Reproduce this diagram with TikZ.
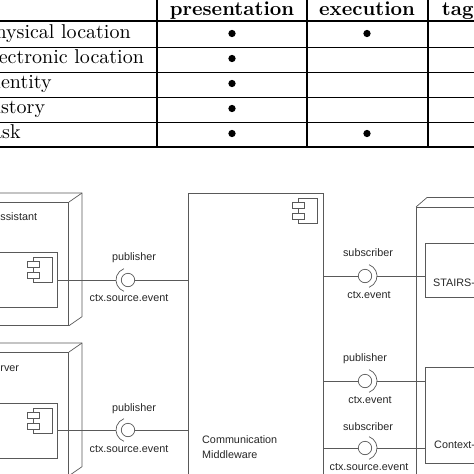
\documentclass[tikz,border=0pt]{standalone}
\usepackage{fontspec}
\newfontfamily\diagfont{Liberation Sans}
\usetikzlibrary{calc}
\tikzset{
  tabtext/.style={font=\fontsize{10}{12}\selectfont, scale=2, inner sep=0pt, anchor=base west},
  tabhead/.style={font=\fontsize{10}{12}\selectfont\bfseries, scale=2, inner sep=0pt, anchor=base},
  tabdot/.style={circle, fill=black, inner sep=0pt, minimum size=7.3pt},
  thinrule/.style={line width=1pt, black},
  thickrule/.style={line width=1.6pt, black},
  diag/.style={draw=black!65, line width=0.7pt},
  boxface/.style={diag, rectangle, inner sep=0pt},
  ball/.style={diag, circle, inner sep=0pt, minimum size=13.4pt},
  lbl/.style={font=\diagfont\fontsize{10.8}{15}\selectfont, text=black!85, inner sep=0pt},
  compicon/.pic={
    \draw[diag, fill=white] (-19,0) rectangle (0,25);
    \draw[diag, fill=white] (-25,4) rectangle (-13,10);
    \draw[diag, fill=white] (-25,15) rectangle (-13,21);
  }
}
\begin{document}
\begin{tikzpicture}[x=1pt,y=-1pt]
\useasboundingbox (0,0) rectangle (474,474);
\clip (0,0) rectangle (474,474);
% ---------------- table ----------------
\draw[thickrule] (-5,21) -- (480,21);
\foreach \yy in {47,72,97,122} \draw[thinrule] (-5,\yy) -- (480,\yy);
\draw[thickrule] (-5,147) -- (480,147);
\draw[line width=1.3pt] (157,-5) -- (157,147);
\draw[line width=1.3pt] (307,-5) -- (307,147);
\draw[line width=1.3pt] (428,-5) -- (428,147);
\node[tabhead] (hpres) at (232,15) {presentation};
\node[tabhead] (hexec) at (367,15) {execution};
\node[tabhead, anchor=base west] (htag) at (441.5,15) {tagging};
\node[tabtext] (r1) at (-16,38.5) {physical location};
\node[tabtext] (r2) at (-16,63.5) {electronic location};
\node[tabtext] (r3) at (-16,88.5) {identity};
\node[tabtext] (r4) at (-16,113.5) {history};
\node[tabtext] (r5) at (-16,138.5) {task};
\node[tabdot] (d11) at (232,33.5) {};
\node[tabdot] (d21) at (232,58.5) {};
\node[tabdot] (d31) at (232,83.5) {};
\node[tabdot] (d41) at (232,108.5) {};
\node[tabdot] (d51) at (232,133.5) {};
\node[tabdot] (d12) at (367,33.5) {};
\node[tabdot] (d52) at (367,133.5) {};
% ---------------- diagram ----------------
% left nodes
\node[boxface, minimum width=200pt, minimum height=123pt, anchor=north east] (pa) at (69,202) {};
\draw[diag] (pa.north west) -- ++(13,-9) -- ($(pa.north east)+(13,-9)$) -- ($(pa.south east)+(13,-9)$) -- (pa.south east);
\draw[diag] (pa.north east) -- ++(13,-9);
\node[lbl, anchor=west] (patext) at (-7,217) {Assistant};
\node[boxface, minimum width=150pt, minimum height=55pt, anchor=north east] (paComp) at (58,252) {};
\pic at ($(paComp.north east)+(-6,5)$) {compicon};

\node[boxface, minimum width=200pt, minimum height=123pt, anchor=north east] (srv) at (69,352) {};
\draw[diag] (srv.north west) -- ++(13,-9) -- ($(srv.north east)+(13,-9)$) -- ($(srv.south east)+(13,-9)$) -- (srv.south east);
\draw[diag] (srv.north east) -- ++(13,-9);
\node[lbl, anchor=west] (srvtext) at (-13,368) {Server};
\node[boxface, minimum width=150pt, minimum height=55pt, anchor=north east] (srvComp) at (58,403) {};
\pic at ($(srvComp.north east)+(-6,5)$) {compicon};

% middleware
\node[boxface, minimum width=135pt, minimum height=330pt, anchor=north west] (mw) at (188,193) {};
\pic at ($(mw.north east)+(-6,5)$) {compicon};
\node[lbl, anchor=west, align=left] (mwtext) at (202,447.5) {Communication\\Middleware};

% right node
\node[boxface, minimum width=200pt, minimum height=330pt, anchor=north west] (rn) at (416,207) {};
\draw[diag] (rn.north west) -- ++(11,-9.5) -- ($(rn.north east)+(11,-9.5)$);
\node[boxface, minimum width=150pt, minimum height=54pt, anchor=north west] (stairs) at (425,243) {};
\node[lbl, anchor=west] (stairstext) at (433,283) {STAIRS-Client};
\node[boxface, minimum width=150pt, minimum height=96pt, anchor=north west] (ctx) at (425,367) {};
\node[lbl, anchor=west] (ctxtext) at (434,446) {Context-Manager};

% left interfaces
\node[ball] (b1) at (128,280) {};
\coordinate (s1) at ($(b1)+(-12,0)$);
\draw[diag] ($(b1)+(110:12)$) arc[start angle=110, end angle=250, radius=12];
\draw[diag] (paComp.east |- b1) -- (s1);
\draw[diag] (b1.east) -- (mw.west |- b1);
\node[lbl] (l1a) at (134,258) {publisher};
\node[lbl] (l1b) at (129,298) {ctx.source.event};

\node[ball] (b2) at (128,430) {};
\coordinate (s2) at ($(b2)+(-12,0)$);
\draw[diag] ($(b2)+(110:12)$) arc[start angle=110, end angle=250, radius=12];
\draw[diag] (srvComp.east |- b2) -- (s2);
\draw[diag] (b2.east) -- (mw.west |- b2);
\node[lbl] (l2a) at (134,409) {publisher};
\node[lbl] (l2b) at (129,449) {ctx.source.event};

% right interfaces
\node[ball] (b3) at (365,276) {};
\coordinate (s3) at ($(b3)+(12,0)$);
\draw[diag] ($(b3)+(-70:12)$) arc[start angle=-70, end angle=70, radius=12];
\draw[diag] (mw.east |- b3) -- (b3.west);
\draw[diag] (s3) -- (stairs.west |- s3);
\node[lbl] (l3a) at (368,253) {subscriber};
\node[lbl] (l3b) at (369,295) {ctx.event};

\node[ball] (b4) at (365,381) {};
\coordinate (s4) at ($(b4)+(12,0)$);
\draw[diag] ($(b4)+(-70:12)$) arc[start angle=-70, end angle=70, radius=12];
\draw[diag] (mw.east |- b4) -- (b4.west);
\draw[diag] (s4) -- (ctx.west |- s4);
\node[lbl] (l4a) at (365,359) {publisher};
\node[lbl] (l4b) at (370,400) {ctx.event};

\node[ball] (b5) at (365,448) {};
\coordinate (s5) at ($(b5)+(12,0)$);
\draw[diag] ($(b5)+(-70:12)$) arc[start angle=-70, end angle=70, radius=12];
\draw[diag] (mw.east |- b5) -- (b5.west);
\draw[diag] (s5) -- (ctx.west |- s5);
\node[lbl] (l5a) at (368,427) {subscriber};
\node[lbl] (l5b) at (369,467) {ctx.source.event};
\end{tikzpicture}
\end{document}
